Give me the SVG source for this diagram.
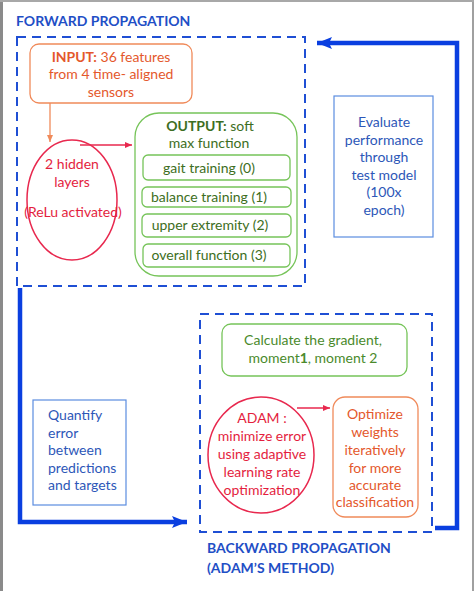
<svg xmlns="http://www.w3.org/2000/svg" width="474" height="591" viewBox="0 0 474 591">
<style>
text{font-family:Lato,"Open Sans","Liberation Sans",sans-serif;font-size:14px}
.title{font-weight:bold;fill:#1f4fc6;font-size:14px}
.dash{fill:none;stroke:#1f4fd4;stroke-width:2;stroke-dasharray:9 6}
.thick{fill:none;stroke:#0a3fe0;stroke-width:4.5}
.org{fill:none;stroke:#f08a5a;stroke-width:1.3}
.orgt{fill:#e4582c;text-anchor:middle}
.red{fill:none;stroke:#e8284e;stroke-width:1.5}
.redt{fill:#e41e3e;text-anchor:middle}
.grn{fill:none;stroke:#76c459;stroke-width:1.3}
.grnt{fill:#3d6e22;text-anchor:middle}
.blu{fill:none;stroke:#5b8de0;stroke-width:1.2}
.blut{fill:#2d57b8}
</style>
<defs>
<marker id="ao" markerWidth="8" markerHeight="8" refX="7" refY="4" orient="auto" markerUnits="userSpaceOnUse"><path d="M0,1 L7,4 L0,7 Z" fill="#f08a5a"/></marker>
<marker id="ar" markerWidth="8" markerHeight="8" refX="7" refY="4" orient="auto" markerUnits="userSpaceOnUse"><path d="M0,1 L7,4 L0,7 Z" fill="#e8284e"/></marker>
<marker id="ab" markerWidth="16" markerHeight="14" refX="15" refY="7" orient="auto" markerUnits="userSpaceOnUse"><path d="M0,1 L15,7 L0,13 L3,7 Z" fill="#0a3fe0"/></marker>
</defs>
<rect x="0" y="0" width="474" height="591" fill="#fff"/>
<rect x="0" y="0" width="3" height="591" fill="#8a8a8a"/>
<rect x="472" y="0" width="2" height="591" fill="#a0a0a0"/>
<rect x="0" y="0" width="474" height="2" fill="#a8a8a8"/>

<g id="labels">
<text class="title" x="16" y="26">FORWARD PROPAGATION</text>
<text class="title" x="207" y="553">BACKWARD PROPAGATION</text>
<text class="title" x="207" y="573">(ADAM’S METHOD)</text>
</g>

<g id="connectors">
<rect class="dash" x="17" y="37" width="288" height="249"/>
<rect class="dash" x="200" y="314" width="232" height="218"/>
<path class="org" d="M50,103 V142" marker-end="url(#ao)"/>
<path class="red" d="M80,145 H132" marker-end="url(#ar)"/>
<path class="red" d="M297,408 H330" marker-end="url(#ar)"/>
<path class="thick" d="M435,528 H457 V43 H317" marker-end="url(#ab)"/>
<path class="thick" d="M20,288 V522 H187" marker-end="url(#ab)"/>
</g>

<g id="input">
<rect class="org" x="30" y="44" width="162" height="59" rx="9"/>
<text class="orgt" x="111" y="62"><tspan font-weight="bold">INPUT:</tspan> 36 features</text>
<text class="orgt" x="111" y="79">from 4 time- aligned</text>
<text class="orgt" x="111" y="97">sensors</text>
</g>

<g id="hidden">
<ellipse class="red" cx="72" cy="200" rx="45" ry="60"/>
<text class="redt" x="72" y="169">2 hidden</text>
<text class="redt" x="72" y="187">layers</text>
<text class="redt" x="73" y="217" font-size="12">(ReLu activated)</text>
</g>

<g id="output">
<rect class="grn" x="135" y="113" width="162" height="163" rx="24"/>
<text class="grnt" x="210" y="131"><tspan font-weight="bold">OUTPUT:</tspan> soft</text>
<text class="grnt" x="209" y="148">max function</text>
<rect class="grn" x="143" y="155" width="147" height="25" rx="5"/>
<text class="grnt" x="209" y="173">gait training (0)</text>
<rect class="grn" x="142" y="187" width="149" height="20" rx="5"/>
<text class="grnt" x="209" y="202">balance training (1)</text>
<rect class="grn" x="142" y="214" width="149" height="23" rx="5"/>
<text class="grnt" x="210" y="230">upper extremity (2)</text>
<rect class="grn" x="143" y="244" width="147" height="23" rx="5"/>
<text class="grnt" x="209" y="260">overall function (3)</text>
</g>

<g id="evaluate">
<rect class="blu" x="334" y="96" width="99" height="141"/>
<text class="blut" text-anchor="middle" x="384" y="127">Evaluate</text>
<text class="blut" text-anchor="middle" x="384" y="145">performance</text>
<text class="blut" text-anchor="middle" x="384" y="162">through</text>
<text class="blut" text-anchor="middle" x="384" y="180">test model</text>
<text class="blut" text-anchor="middle" x="384" y="197">(100x</text>
<text class="blut" text-anchor="middle" x="384" y="215">epoch)</text>
</g>

<g id="quantify">
<rect class="blu" x="33" y="400" width="93" height="105"/>
<text class="blut" x="48" y="420">Quantify</text>
<text class="blut" x="48" y="438">error</text>
<text class="blut" x="48" y="455">between</text>
<text class="blut" x="48" y="473">predictions</text>
<text class="blut" x="48" y="490">and targets</text>
</g>

<g id="gradient">
<rect class="grn" x="222" y="324" width="185" height="52" rx="9"/>
<text class="grnt" x="313" y="345" style="fill:#4a8a2c">Calculate the gradient,</text>
<text class="grnt" x="313" y="363" style="fill:#4a8a2c">moment<tspan font-weight="bold">1</tspan>, moment 2</text>
</g>

<g id="adam">
<ellipse class="red" cx="261" cy="455" rx="53" ry="58"/>
<text class="redt" x="262" y="423">ADAM :</text>
<text class="redt" x="262" y="441">minimize error</text>
<text class="redt" x="262" y="459">using adaptive</text>
<text class="redt" x="262" y="477">learning rate</text>
<text class="redt" x="262" y="495">optimization</text>
</g>

<g id="optimize">
<rect class="org" x="333" y="397" width="85" height="120" rx="12"/>
<text class="orgt" x="375" y="419">Optimize</text>
<text class="orgt" x="375" y="437">weights</text>
<text class="orgt" x="375" y="455">iteratively</text>
<text class="orgt" x="375" y="473">for more</text>
<text class="orgt" x="375" y="490">accurate</text>
<text class="orgt" x="375" y="507">classification</text>
</g>
</svg>
